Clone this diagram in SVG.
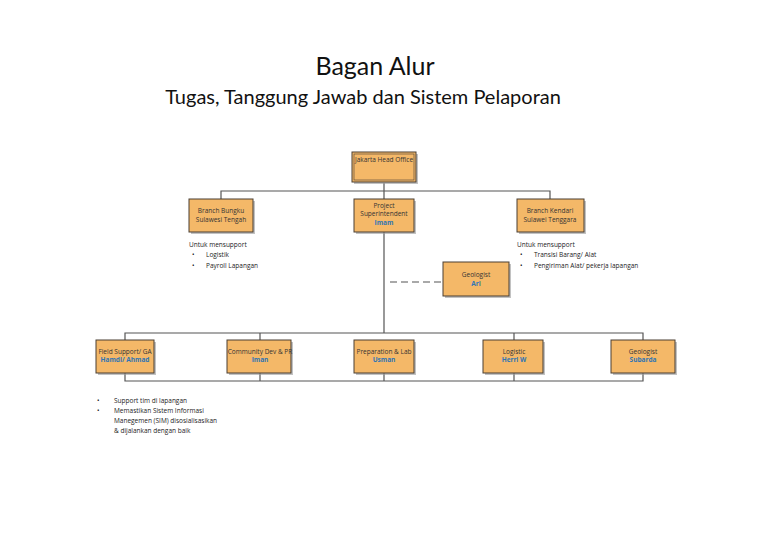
<svg xmlns="http://www.w3.org/2000/svg" width="768" height="543" viewBox="0 0 768 543">
<style>
.b{fill:#F4B868;stroke:#4a3f33;stroke-width:1}
.s{fill:#9a9a9a;opacity:.6}
.t{font-family:"Open Sans","Liberation Sans",sans-serif;font-size:6.5px;fill:#333;text-anchor:middle}
.n{fill:#2f75b5;font-weight:bold}
.l{font-family:"Open Sans","Liberation Sans",sans-serif;font-size:6.5px;fill:#222}
.c{fill:none;stroke:#555;stroke-width:1.2}
</style>
<rect width="768" height="543" fill="#fff"/>
<text x="375" y="75" font-family="Lato,'Open Sans',sans-serif" font-size="25" text-anchor="middle" fill="#111">Bagan Alur</text>
<text x="363" y="104" font-family="Lato,'Open Sans',sans-serif" font-size="20" text-anchor="middle" fill="#111">Tugas, Tanggung Jawab dan Sistem Pelaporan</text>
<g id="connectors">
<path class="c" d="M384 183V191M221 199V191H550V199M384 191V199M384 232V333M125 340V333H643V340M260 333V340M514 333V340M125 373V381H643V373M260 373V381M384 373V381M514 373V381"/>
<path d="M390 282H443" stroke="#555" stroke-width="1.2" stroke-dasharray="7,4"/>
</g>
<g id="head"><rect class="s" x="354" y="154" width="64" height="30"/><rect class="b" x="352" y="152" width="64" height="30" stroke-width="2"/><rect x="354" y="154" width="60" height="26" fill="none" stroke="#4a3f33" stroke-width=".6"/><text class="t" x="384" y="162">Jakarta Head Office</text></g>
<g id="bungku"><rect class="s" x="191" y="201" width="64" height="33"/><rect class="b" x="189" y="199" width="64" height="33"/><text class="t" x="221" y="213">Branch Bungku</text><text class="t" x="221" y="222">Sulawesi Tengah</text></g>
<g id="project"><rect class="s" x="356" y="201" width="60" height="33"/><rect class="b" x="354" y="199" width="60" height="33"/><text class="t" x="384" y="208">Project</text><text class="t" x="384" y="216">Superintendent</text><text class="t n" x="384" y="225">Imam</text></g>
<g id="kendari"><rect class="s" x="519" y="201" width="67" height="33"/><rect class="b" x="517" y="199" width="67" height="33"/><text class="t" x="550" y="213">Branch Kendari</text><text class="t" x="550" y="222">Sulawei Tenggara</text></g>
<g id="ari"><rect class="s" x="445" y="264" width="66" height="34"/><rect class="b" x="443" y="262" width="66" height="34"/><text class="t" x="476" y="277">Geologist</text><text class="t n" x="476" y="286">Ari</text></g>
<g id="field"><rect class="s" x="98" y="342" width="58" height="33"/><rect class="b" x="96" y="340" width="58" height="33"/><text class="t" x="125" y="354">Field Support/ GA</text><text class="t n" x="125" y="362">Hamdi/ Ahmad</text></g>
<g id="comdev"><rect class="s" x="229" y="342" width="64" height="33"/><rect class="b" x="227" y="340" width="64" height="33"/><text class="t" x="260" y="354">Community Dev &amp; PR</text><text class="t n" x="260" y="362">Iman</text></g>
<g id="prep"><rect class="s" x="356" y="342" width="60" height="33"/><rect class="b" x="354" y="340" width="60" height="33"/><text class="t" x="384" y="354">Preparation &amp; Lab</text><text class="t n" x="384" y="362">Usman</text></g>
<g id="logistic"><rect class="s" x="485" y="342" width="60" height="33"/><rect class="b" x="483" y="340" width="60" height="33"/><text class="t" x="514" y="354">Logistic</text><text class="t n" x="514" y="362">Herri W</text></g>
<g id="subarda"><rect class="s" x="613" y="342" width="64" height="33"/><rect class="b" x="611" y="340" width="64" height="33"/><text class="t" x="643" y="354">Geologist</text><text class="t n" x="643" y="362">Subarda</text></g>
<g id="notes" class="l">
<text x="189" y="247">Untuk mensupport</text>
<text x="192" y="257">•</text><text x="206" y="257">Logistik</text>
<text x="192" y="268">•</text><text x="206" y="268">Payroll Lapangan</text>
<text x="517" y="247">Untuk mensupport</text>
<text x="520" y="257">•</text><text x="534" y="257">Transisi Barang/ Alat</text>
<text x="520" y="268">•</text><text x="534" y="268">Pengiriman Alat/ pekerja lapangan</text>
<text x="97" y="403">•</text><text x="114" y="403">Support tim di lapangan</text>
<text x="97" y="413">•</text><text x="114" y="413">Memastikan Sistem Informasi</text>
<text x="114" y="423">Manegemen (SIM) disosialisasikan</text>
<text x="114" y="433">&amp; dijalankan dengan baik</text>
</g>
</svg>
